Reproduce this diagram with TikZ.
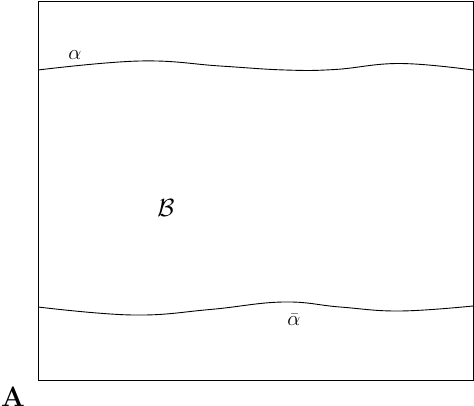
\documentclass[tikz,border=0pt]{standalone}
\usepackage{amsmath}
\begin{document}
\begin{tikzpicture}[x=1pt,y=-1pt,line width=0.9pt,
  lbl/.style={inner sep=0pt}]
\useasboundingbox (0,0) rectangle (474,406);
\draw (38,1) rectangle (473,380);
\draw plot[smooth,tension=0.7] coordinates {(38,70) (140,61) (220,66) (285,70) (335,69.5) (400,63.5) (473,70)};
\draw plot[smooth,tension=0.7] coordinates {(38,307) (133,315) (210,309.5) (283,302) (340,307) (400,311) (473,306)};
\node[lbl] (alpha) at (75,55) {\fontsize{21}{25}\selectfont$\alpha$};
\node[lbl] (abar) at (294,320) {\fontsize{21}{25}\selectfont$\bar\alpha$};
\node[lbl] (B) at (166,208) {\fontsize{31}{37}\selectfont$\mathcal{B}$};
\node[lbl,anchor=north] (A) at (13,386) {\fontsize{28}{34}\selectfont\bfseries A};
\end{tikzpicture}
\end{document}
